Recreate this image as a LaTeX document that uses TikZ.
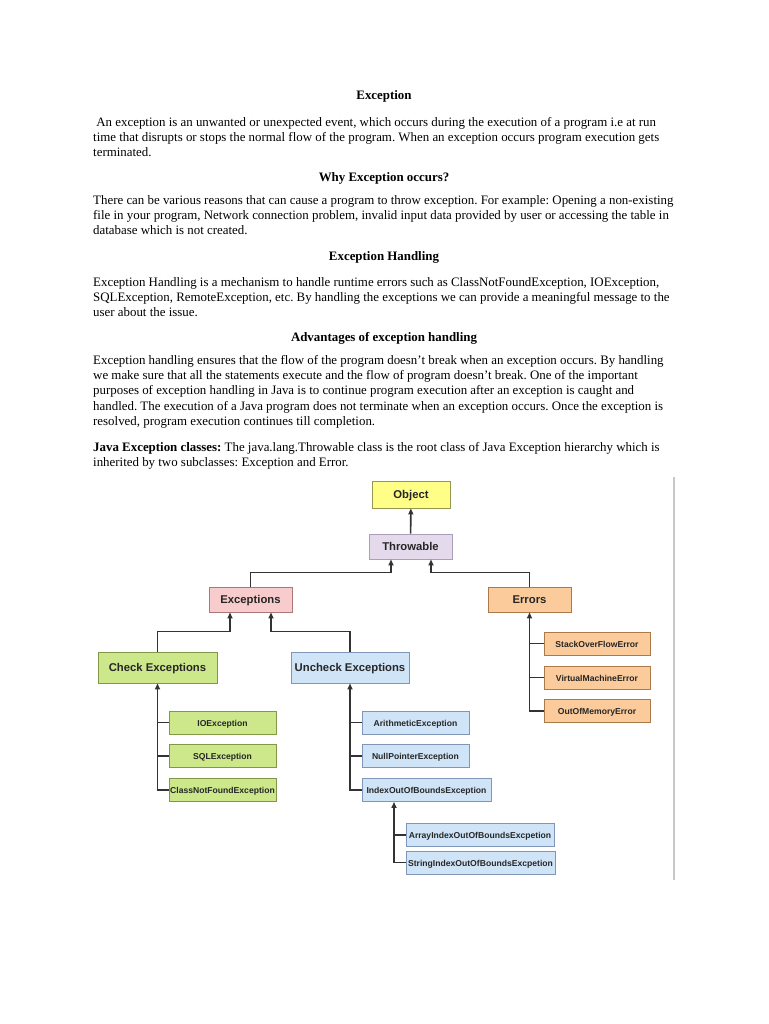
\documentclass[tikz,border=0pt]{standalone}
\usepackage{fontspec}
\setmainfont{Liberation Serif}
\newfontfamily\arialf{Liberation Sans}
\usetikzlibrary{arrows.meta}
\definecolor{cobj}{RGB}{255,255,136}
\definecolor{cobjd}{RGB}{150,150,80}
\definecolor{cthr}{RGB}{228,218,236}
\definecolor{cthrd}{RGB}{170,158,184}
\definecolor{cexc}{RGB}{248,204,204}
\definecolor{cexcd}{RGB}{170,120,120}
\definecolor{cerr}{RGB}{251,203,155}
\definecolor{cerrd}{RGB}{170,122,74}
\definecolor{cchk}{RGB}{205,232,138}
\definecolor{cchkd}{RGB}{130,152,72}
\definecolor{cunc}{RGB}{208,228,248}
\definecolor{cuncd}{RGB}{128,150,184}
\frenchspacing
\begin{document}
\begin{tikzpicture}[x=1pt,y=-1pt,
  txt/.style={anchor=mid west, inner sep=0pt, font=\fontsize{12.9}{15}\selectfont},
  hd/.style={anchor=mid, inner sep=0pt, font=\fontsize{12.9}{15}\selectfont\bfseries},
  box/.style={draw, line width=0.9pt, inner sep=0pt, text=black!85,
    text height=0.74em, text depth=0.02em,
    font=\arialf\bfseries\fontsize{11.3}{13}\selectfont},
  sbox/.style={box, minimum height=23pt, font=\arialf\bfseries\fontsize{8.6}{10}\selectfont},
  conn/.style={draw=black!80, line width=1.6pt},
  arr/.style={conn, -{Triangle[length=6pt,width=5pt]}}]
\useasboundingbox (0,0) rectangle (768,1024);
\fill[white] (0,0) rectangle (768,1024);

% ---- text ----
\node[hd] (h1) at (384,97) {Exception};
\node[txt] (p1a) at (93,124) {\ An exception is an unwanted or unexpected event, which occurs during the execution of a program i.e at run};
\node[txt] (p1b) at (93,139.2) {time that disrupts or stops the normal flow of the program. When an exception occurs program execution gets};
\node[txt] (p1c) at (93,154.4) {terminated.};

\node[hd] (h2) at (384,179) {Why Exception occurs?};
\node[txt] (p2a) at (93,202.3) {There can be various reasons that can cause a program to throw exception. For example: Opening a non-existing};
\node[txt] (p2b) at (93,217.5) {file in your program, Network connection problem, invalid input data provided by user or accessing the table in};
\node[txt] (p2c) at (93,232.7) {database which is not created.};

\node[hd] (h3) at (384,258.3) {Exception Handling};
\node[txt] (p3a) at (93,283.8) {Exception Handling is a mechanism to handle runtime errors such as ClassNotFoundException, IOException,};
\node[txt] (p3b) at (93,298.8) {SQLException, RemoteException, etc. By handling the exceptions we can provide a meaningful message to the};
\node[txt] (p3c) at (93,313.8) {user about the issue.};

\node[hd] (h4) at (384,339) {Advantages of exception handling};
\node[txt] (p4a) at (93,362.3) {Exception handling ensures that the flow of the program doesn’t break when an exception occurs. By handling};
\node[txt] (p4b) at (93,377.5) {we make sure that all the statements execute and the flow of program doesn’t break. One of the important};
\node[txt] (p4c) at (93,392.7) {purposes of exception handling in Java is to continue program execution after an exception is caught and};
\node[txt] (p4d) at (93,407.9) {handled. The execution of a Java program does not terminate when an exception occurs. Once the exception is};
\node[txt] (p4e) at (93,423.1) {resolved, program execution continues till completion.};

\node[txt] (p5a) at (93,448.8) {\textbf{Java Exception classes:} The java.lang.Throwable class is the root class of Java Exception hierarchy which is};
\node[txt] (p5b) at (93,464) {inherited by two subclasses: Exception and Error.};

% ---- side rule ----
\draw[black!22, line width=1.4pt] (674,477) -- (674,880);

% ---- boxes ----
\node[box, fill=cobj, draw=cobjd, minimum width=78pt, minimum height=27pt] (obj) at (411,494.5) {Object};
\node[box, fill=cthr, draw=cthrd, minimum width=83pt, minimum height=25pt] (thr) at (410.5,546.5) {Throwable};
\node[box, fill=cexc, draw=cexcd, minimum width=83pt, minimum height=25pt] (exc) at (250.5,599.5) {Exceptions};
\node[box, fill=cerr, draw=cerrd, minimum width=83pt, minimum height=25pt] (err) at (529.5,599.5) {Errors};
\node[box, fill=cchk, draw=cchkd, minimum width=119pt, minimum height=31pt] (chk) at (157.5,667.5) {Check Exceptions};
\node[box, fill=cunc, draw=cuncd, minimum width=118pt, minimum height=31pt] (unc) at (350,667.5) {Uncheck Exceptions};

\node[sbox, fill=cchk, draw=cchkd, minimum width=107pt] (io) at (222.5,722.5) {IOException};
\node[sbox, fill=cchk, draw=cchkd, minimum width=107pt] (sql) at (222.5,756) {SQLException};
\node[sbox, fill=cchk, draw=cchkd, minimum width=107pt] (cnf) at (222.5,790) {ClassNotFoundException};

\node[sbox, fill=cunc, draw=cuncd, minimum width=107pt] (ari) at (415.5,722.5) {ArithmeticException};
\node[sbox, fill=cunc, draw=cuncd, minimum width=107pt] (npe) at (415.5,756) {NullPointerException};
\node[sbox, fill=cunc, draw=cuncd, minimum width=129pt] (ioob) at (426.5,790) {IndexOutOfBoundsException};
\node[sbox, fill=cunc, draw=cuncd, minimum width=148pt] (aioob) at (480,835) {ArrayIndexOutOfBoundsExcpetion};
\node[sbox, fill=cunc, draw=cuncd, minimum width=149pt] (sioob) at (480.5,862.5) {StringIndexOutOfBoundsExcpetion};

\node[sbox, fill=cerr, draw=cerrd, minimum width=106pt] (soe) at (597,643.5) {StackOverFlowError};
\node[sbox, fill=cerr, draw=cerrd, minimum width=106pt] (vme) at (597,677.5) {VirtualMachineError};
\node[sbox, fill=cerr, draw=cerrd, minimum width=106pt] (oom) at (597,711) {OutOfMemoryError};

% ---- connectors ----
\draw[arr] (thr) -- (obj);
\draw[arr] (exc.north) -- ++(0,-14) -| ([xshift=-19.5pt]thr.south);
\draw[arr] (err.north) -- ++(0,-14) -| ([xshift=20.5pt]thr.south);
\draw[arr] (chk.north) -- ++(0,-20) -| ([xshift=-20.5pt]exc.south);
\draw[arr] (unc.north) -- ++(0,-20) -| ([xshift=20.5pt]exc.south);

\draw[arr] (cnf.west) -| (chk.south);
\draw[conn] (io.west) -- (io.west -| chk.south);
\draw[conn] (sql.west) -- (sql.west -| chk.south);

\draw[arr] (ioob.west) -| (unc.south);
\draw[conn] (ari.west) -- (ari.west -| unc.south);
\draw[conn] (npe.west) -- (npe.west -| unc.south);

\coordinate (itr) at ([xshift=-32.5pt]ioob.south);
\draw[arr] (sioob.west) -| (itr);
\draw[conn] (aioob.west) -- (aioob.west -| itr);

\draw[arr] (oom.west) -| (err.south);
\draw[conn] (soe.west) -- (soe.west -| err.south);
\draw[conn] (vme.west) -- (vme.west -| err.south);
\end{tikzpicture}
\end{document}
